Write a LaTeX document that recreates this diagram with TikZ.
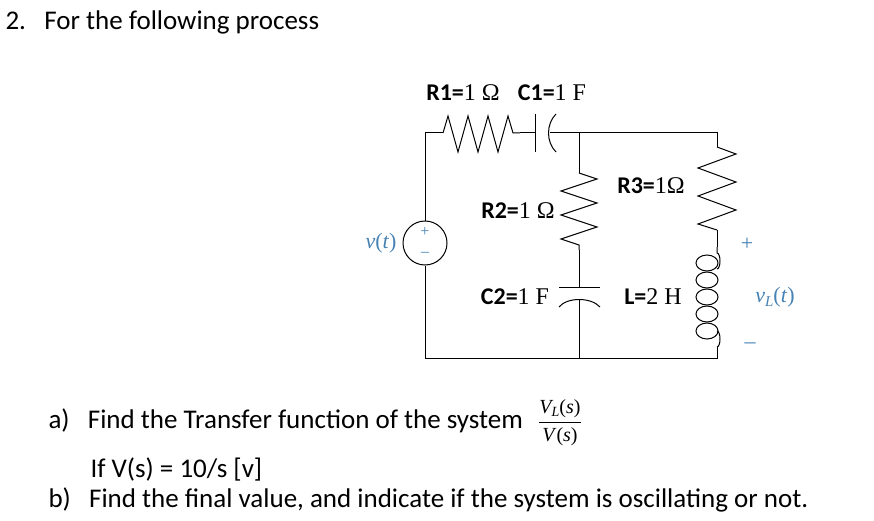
\documentclass[tikz,border=0pt]{standalone}
\usepackage{amsmath}
\usepackage{fontspec}
\setmainfont{Carlito}
\newfontfamily\serf{Liberation Serif}
\usepackage{tikz}
\definecolor{lblue}{RGB}{70,130,180}
\begin{document}
\begin{tikzpicture}[x=1pt,y=-1pt,line width=1pt,
    txt/.style = {anchor=west, inner sep=0pt, font=\fontsize{27}{30}\selectfont},
    lbl/.style = {inner sep=0pt, font=\fontsize{24}{28}\selectfont},
    blu/.style = {inner sep=0pt, text=lblue, font=\serf\fontsize{22}{26}\selectfont}]
        \useasboundingbox (0,0) rectangle (874,521);
        % corners
        \coordinate (tl) at (425,133);
        \coordinate (bl) at (425,358);
        \coordinate (tm) at (579,133);
        \coordinate (bm) at (579,358);
        \coordinate (tr) at (717,133);
        \coordinate (br) at (717,358);
        \coordinate (r1a) at (443,133);
        \coordinate (r1b) at (520,133);
        \coordinate (c1a) at (535,133);
        \coordinate (c1b) at (550,133);
        \coordinate (r2a) at (579,173);
        \coordinate (r2b) at (579,250);
        \coordinate (c2a) at (579,287);
        \coordinate (c2b) at (579,300);
        \coordinate (r3a) at (717,147);
        \coordinate (r3b) at (717,230);
        \coordinate (la) at (717,247);
        \coordinate (lb) at (717,347);
        \node[draw, circle, minimum size=44pt, inner sep=0pt] (src) at (425,243) {};
        % wires
        \draw (src) -- (tl) -- (r1a);
        \draw (src) -- (bl) -- (br) -- (lb);
        \draw (r1b) -- (c1a);
        \draw (c1b) -- (tr) -- (r3a);
        \draw (tm) -- (r2a);
        \draw (r2b) -- (c2a);
        \draw (c2b) -- (bm);
        \draw (r3b) -- (la);
        % R1
        \draw (r1a) -- ++(5,-17) -- ++(10,36) -- ++(10,-36) -- ++(10,36) -- ++(10,-36)
              -- ++(10,36) -- ++(10,-36) -- ++(5,17) -- (r1b);
        % C1
        \draw (535,114) -- (535,152);
        \draw (556,114) .. controls (546,124) and (546,142) .. (556,152);
        % R2
        \draw (r2a) -- ++(18,6) -- ++(-36,12) -- ++(36,12) -- ++(-36,12) -- ++(36,12)
              -- ++(-36,12) -- ++(18,6) -- (r2b);
        % C2
        \draw (559,287) -- (600,287);
        \draw (559,307) .. controls (567,297) and (591,297) .. (600,307);
        % R3
        \draw (r3a) -- ++(19,7) -- ++(-38,14) -- ++(38,14) -- ++(-38,14) -- ++(38,14)
              -- ++(-38,14) -- ++(19,6) -- (r3b);
        % L
        \draw (la) -- ++(0,6) arc (90:-90:3pt and 8pt);
        \foreach \i in {0,...,4}
            \draw (707,{263+\i*17}) ellipse (11pt and 8pt);
        \draw (717,331) arc (90:-90:3pt and 8pt) -- (lb);
        % labels
        \node[lbl] (lr1) at (463,93) {\textbf{R1=}{\serf 1 Ω}};
        \node[lbl] (lc1) at (552,93) {\textbf{C1=}{\serf 1 F}};
        \node[lbl] (lr2) at (518,211) {\textbf{R2=}{\serf 1 Ω}};
        \node[lbl] (lc2) at (515,297) {\textbf{C2=}{\serf 1 F}};
        \node[lbl] (lr3) at (651,186) {\textbf{R3=}{\serf 1Ω}};
        \node[lbl] (ll) at (653,297) {\textbf{L=}{\serf 2 H}};
        \node[blu, font=\serf\fontsize{16}{18}\selectfont] (plus) at (425,232) {+};
        \node[blu, font=\serf\fontsize{16}{18}\selectfont] (minus) at (425,254) {–};
        \node[blu] (lv) at (381,243) {\textit{v}(\textit{t})};
        \node[blu] (lplus) at (747,244) {+};
        \node[blu] (lminus) at (750,346) {–};
        \node[blu] (lvl) at (775,297) {\textit{v}\raisebox{-4pt}{\fontsize{15}{17}\selectfont\textit{L}}(\textit{t})};
        % text
        \node[txt] (t0) at (5,22) {2.\ \ \ For the following process};
        \node[txt] (ta) at (48,421) {a)\ \ \ Find the Transfer function of the system};
        \node[inner sep=0pt, font=\serf\fontsize{20}{22}\selectfont] (frac) at (560,423)
            {$\dfrac{\text{\textit{V\raisebox{-3pt}{\fontsize{14}{16}\selectfont L}}(\textit{s})}}{\text{\textit{V}(\textit{s})}}$};
        \node[txt] (tv) at (90,469) {If V(s) = 10/s [v]};
        \node[txt] (tb) at (48,500) {b)\ \ \ Find the final value, and indicate if the system is oscillating or not.};
\end{tikzpicture}
\end{document}
